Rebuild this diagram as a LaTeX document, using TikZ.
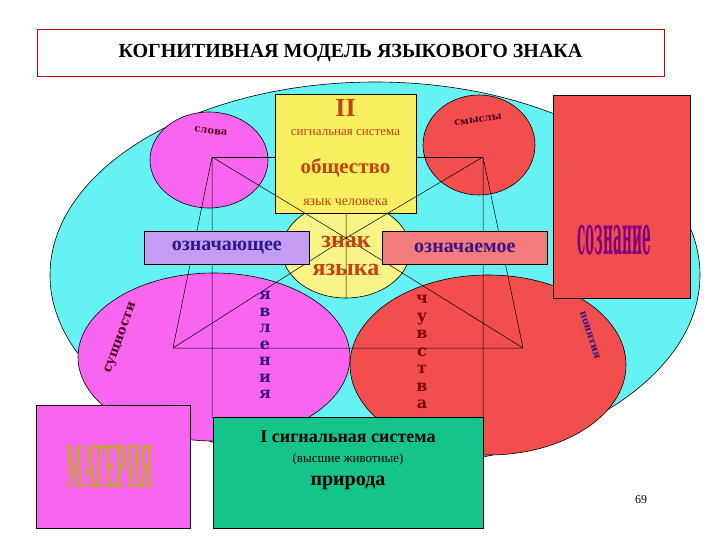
\documentclass[tikz,border=0pt]{standalone}
\usepackage{fontspec}
\setmainfont{Liberation Serif}
\newfontfamily\heavy{DejaVu Serif}
\definecolor{cyanbg}{HTML}{66F2F2}
\definecolor{mag}{HTML}{F866F0}
\definecolor{redd}{HTML}{F24E4E}
\definecolor{yel}{HTML}{F8F060}
\definecolor{lyel}{HTML}{F8F488}
\definecolor{lav}{HTML}{C49CF4}
\definecolor{salm}{HTML}{F27C7C}
\definecolor{grn}{HTML}{14C48A}
\definecolor{brn}{HTML}{C84010}
\definecolor{navy}{HTML}{2A1A8A}
\definecolor{gold}{HTML}{C8A030}
\tikzset{shp/.style={draw=black,line width=0.6pt},
 ln/.style={draw=black,line width=0.5pt}}
\begin{document}
\begin{tikzpicture}[x=1pt,y=-1pt]
\useasboundingbox (0,0) rectangle (720,540);
\fill[white] (0,0) rectangle (720,540);
\node[draw=red!80!black,line width=1pt,fill=white,minimum width=627,minimum height=47,font=\bfseries\fontsize{20}{22}\selectfont] (title) at (350.5,53.5) {КОГНИТИВНАЯ МОДЕЛЬ ЯЗЫКОВОГО ЗНАКА};
\draw[shp,fill=cyanbg] (375,275) ellipse [x radius=325,y radius=193];
\draw[shp,fill=mag] (209,160) ellipse [x radius=59,y radius=48];
\draw[shp,fill=redd] (479,145) ellipse [x radius=56,y radius=50];
\draw[shp,fill=mag] (214,357) ellipse [x radius=136,y radius=84];
\draw[shp,fill=redd] (488,365) ellipse [x radius=138,y radius=90];
\draw[shp,fill=lyel] (346,250) ellipse [x radius=64,y radius=48];
\node[shp,fill=yel,minimum width=141,minimum height=119,anchor=north west] (sys2) at (275,94) {};
\node[text=brn,font=\bfseries\fontsize{26}{26}\selectfont] (ii) at (345.5,108) {II};
\node[text=brn,font=\fontsize{13}{13}\selectfont] (sig) at (345.5,133) {сигнальная система};
\node[text=brn,font=\bfseries\fontsize{21}{21}\selectfont] (obs) at (345.5,168) {общество};
\node[text=brn,font=\fontsize{14}{14}\selectfont] (yaz) at (345.5,202) {язык человека};
\coordinate (A) at (212,157); \coordinate (B) at (483,157);
\coordinate (C) at (173,348); \coordinate (D) at (523,348);
\coordinate (Z) at (346,238);
\coordinate (Ab) at (212,418); \coordinate (Bb) at (483,418);
\coordinate (Zt) at (346,213); \coordinate (Zb) at (346,298);
\draw[ln] (A) -- (275,157) (416,157) -- (B);
\draw[ln] (A)--(C)--(D)--(B) (A)--(Z)--(B) (C)--(Z)--(D) (A)--(Ab) (B)--(Bb) (Zt)--(Zb);
\node[shp,fill=lav,minimum width=165,minimum height=33,anchor=north west,text=navy,font=\bfseries\fontsize{20}{20}\selectfont] (sgnr) at (144,231) {означающее};
\node[shp,fill=salm,minimum width=165,minimum height=33,anchor=north west,text=navy!80!violet,font=\bfseries\fontsize{20}{20}\selectfont] (sgnd) at (382,231) {означаемое};
\node[text=brn,font=\bfseries\fontsize{24}{28}\selectfont,align=center] (znak) at (346,256) {знак\\языка};
\node[text=black!60!purple,font=\heavy\bfseries\fontsize{10}{10}\selectfont,rotate=-8] (slova) at (211,131) {слова};
\node[text=black!60!purple,font=\heavy\bfseries\fontsize{10}{10}\selectfont,rotate=8] (smysl) at (478,120) {смыслы};
\node[text=black!60!purple,font=\heavy\bfseries\fontsize{13}{13}\selectfont,rotate=70,inner sep=0pt] (sush) at (121,338) {сущности};
\node[text=navy,font=\heavy\bfseries\fontsize{10}{10}\selectfont,rotate=-72,inner sep=0pt] (pon) at (590,335) {понятия};
\node[text=navy!80!violet,font=\heavy\bfseries\fontsize{16}{16.5}\selectfont,align=center] (yavl) at (265,345) {я\\в\\л\\е\\н\\и\\я};
\node[text=red!50!black,font=\heavy\bfseries\fontsize{16}{17.5}\selectfont,align=center] (chuv) at (422,352) {ч\\у\\в\\с\\т\\в\\а};
\node[shp,fill=redd,minimum width=137,minimum height=203,anchor=north west] (soz) at (553,95) {};
\node[text=violet,font=\heavy\bfseries\fontsize{22}{22}\selectfont,xscale=0.62,yscale=2.5,transform shape] (sozt) at (614,240) {сознание};
\node[shp,fill=mag,minimum width=154,minimum height=123,anchor=north west] (mat) at (36,405) {};
\node[text=gold,font=\bfseries\fontsize{22}{22}\selectfont,xscale=0.78,yscale=2.9,transform shape] (matt) at (110,466) {МАТЕРИЯ};
\node[shp,fill=grn,minimum width=270,minimum height=111,anchor=north west] (sys1) at (213,417) {};
\node[font=\bfseries\fontsize{18}{18}\selectfont] (s1) at (348,437) {I сигнальная система};
\node[font=\fontsize{13}{13}\selectfont] (s2) at (348,459) {(высшие животные)};
\node[font=\bfseries\fontsize{20}{20}\selectfont] (s3) at (348,483) {природа};
\node[font=\fontsize{12}{12}\selectfont] (pg) at (641,500) {69};
\end{tikzpicture}
\end{document}
